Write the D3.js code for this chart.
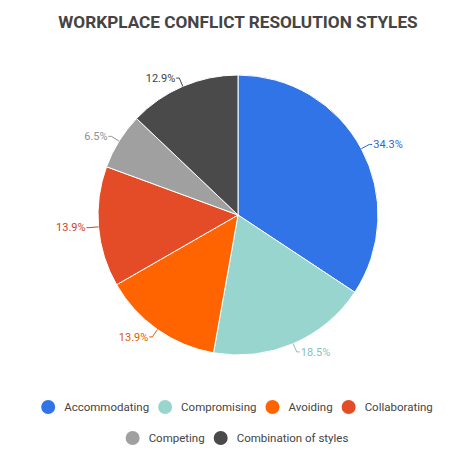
<!DOCTYPE html>
<html>
<head>
<meta charset="utf-8">
<script src="https://cdn.jsdelivr.net/npm/d3@7"></script>
<style>
  body { margin: 0; background: #fff; }
  text { font-family: Roboto, "Noto Sans", sans-serif; }
</style>
</head>
<body>
<svg id="chart" width="474" height="455"></svg>
<script>
var title = "WORKPLACE CONFLICT RESOLUTION STYLES";
var styles = ["Accommodating", "Compromising", "Avoiding", "Collaborating",
  "Competing", "Combination of styles"];
var shares = [34.3, 18.5, 13.9, 13.9, 6.5, 12.9];
var colours = ["#3174e8", "#99d5cf", "#ff6400", "#e34c26", "#a0a0a0", "#4a4a4a"];

var svg = d3.select("#chart"),
	width = +svg.attr("width"),
	cx = 238, cy = 215, radius = 140;

function translate(x, y)
{
	return "translate(" + x + "," + y + ")";
}

svg.append("text")
	.attr("x", width / 2 + 1)
	.attr("y", 28)
	.attr("text-anchor", "middle")
	.attr("font-size", 17.2)
	.attr("font-weight", "bold")
	.attr("fill", "#444")
	.text(title);

var data = styles.map(function(s, i){ return {name: s, value: shares[i]}; });

var colour = d3.scaleOrdinal().domain(styles).range(colours);

var pie = d3.pie().sort(null).value(function(d){ return d.value; });
var arc = d3.arc().innerRadius(0).outerRadius(radius);
var arcs = pie(data);

var g = svg.append("g").attr("transform", translate(cx, cy));

g.selectAll("path.slice")
	.data(arcs)
	.enter().append("path")
		.attr("class", "slice")
		.attr("d", arc)
		.attr("fill", function(d){ return colour(d.data.name); })
		.attr("stroke", "#fff")
		.attr("stroke-width", 1);

// labels with short leader lines
function polar(a, r)
{
	return [r * Math.sin(a), -r * Math.cos(a)];
}

var labels = g.selectAll("g.lbl")
	.data(arcs)
	.enter().append("g")
		.attr("class", "lbl");

labels.each(function(d){
	var mid = (d.startAngle + d.endAngle) / 2,
		right = Math.sin(mid) >= 0,
		p0 = polar(mid, radius),
		p1 = polar(mid, radius + 9),
		p2 = [p1[0] + (right ? 3 : -3), p1[1]],
		c = d3.color(colour(d.data.name));
	var sel = d3.select(this);
	sel.append("polyline")
		.attr("points", [p0, p1, p2].map(function(p){ return p.join(","); }).join(" "))
		.attr("fill", "none")
		.attr("stroke", c.darker(0.3))
		.attr("stroke-width", 1);
	sel.append("text")
		.attr("x", p2[0] + (right ? 1 : -1))
		.attr("y", p2[1])
		.attr("dy", "0.35em")
		.attr("text-anchor", right ? "start" : "end")
		.attr("font-size", 11)
		.attr("fill", c.darker(0.3))
		.text(d3.format(".1f")(d.data.value) + "%");
});

// legend: centred rows, wraps when too wide
var legend = svg.append("g").attr("font-size", 11.5).attr("fill", "#444");
var items = legend.selectAll("g.item")
	.data(styles)
	.enter().append("g")
		.attr("class", "item");
items.append("circle")
	.attr("r", 7)
	.attr("cx", 7)
	.attr("fill", colour);
items.append("text")
	.attr("x", 23)
	.attr("dy", "0.35em")
	.attr("fill", "#444")
	.text(function(d){ return d; });

var rows = [[]], rowW = [0], maxW = 420, gap = 9;
items.each(function(){
	var w = 23 + this.querySelector("text").getComputedTextLength();
	var r = rows.length - 1;
	var add = rows[r].length ? gap + w : w;
	if(rowW[r] + add > maxW)
	{
		rows.push([]); rowW.push(0); r++; add = w;
	}
	rows[r].push({node: this, w: w});
	rowW[r] += add;
});
rows.forEach(function(row, ri){
	var x = (width - rowW[ri]) / 2;
	row.forEach(function(it){
		d3.select(it.node).attr("transform", translate(x, 407 + ri * 31));
		x += it.w + gap;
	});
});
</script>
</body>
</html>
